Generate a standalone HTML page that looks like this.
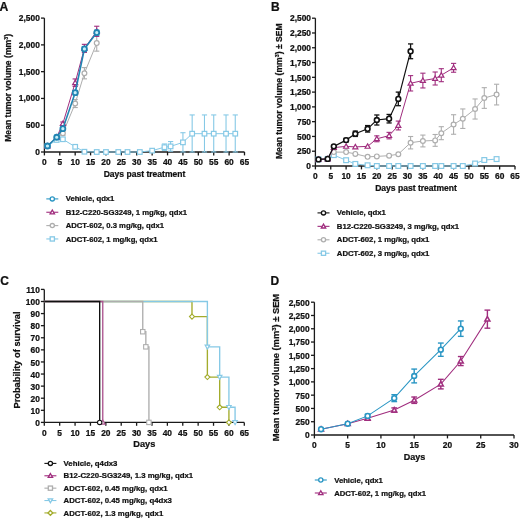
<!DOCTYPE html>
<html><head><meta charset="utf-8"><style>
html,body{margin:0;padding:0;background:#fff;}
svg{display:block;filter:blur(0.3px);}
text{font-family:"Liberation Sans", sans-serif;font-weight:bold;stroke:#111;stroke-width:0.24px;}
</style></head><body>
<svg width="520" height="519" viewBox="0 0 520 519">
<rect width="520" height="519" fill="#fff"/>
<text x="-0.40" y="10.90" font-size="12.2" text-anchor="start" fill="#111" >A</text>
<line x1="44.40" y1="152.00" x2="44.40" y2="18.10" stroke="#1a1a1a" stroke-width="1.3"/>
<line x1="44.40" y1="152.00" x2="244.50" y2="152.00" stroke="#1a1a1a" stroke-width="1.3"/>
<line x1="44.40" y1="152.00" x2="44.40" y2="155.40" stroke="#1a1a1a" stroke-width="1.3"/>
<text x="44.40" y="165.30" font-size="8.4" text-anchor="middle" fill="#111" >0</text>
<line x1="59.79" y1="152.00" x2="59.79" y2="155.40" stroke="#1a1a1a" stroke-width="1.3"/>
<text x="59.79" y="165.30" font-size="8.4" text-anchor="middle" fill="#111" >5</text>
<line x1="75.18" y1="152.00" x2="75.18" y2="155.40" stroke="#1a1a1a" stroke-width="1.3"/>
<text x="75.18" y="165.30" font-size="8.4" text-anchor="middle" fill="#111" >10</text>
<line x1="90.58" y1="152.00" x2="90.58" y2="155.40" stroke="#1a1a1a" stroke-width="1.3"/>
<text x="90.58" y="165.30" font-size="8.4" text-anchor="middle" fill="#111" >15</text>
<line x1="105.97" y1="152.00" x2="105.97" y2="155.40" stroke="#1a1a1a" stroke-width="1.3"/>
<text x="105.97" y="165.30" font-size="8.4" text-anchor="middle" fill="#111" >20</text>
<line x1="121.36" y1="152.00" x2="121.36" y2="155.40" stroke="#1a1a1a" stroke-width="1.3"/>
<text x="121.36" y="165.30" font-size="8.4" text-anchor="middle" fill="#111" >25</text>
<line x1="136.75" y1="152.00" x2="136.75" y2="155.40" stroke="#1a1a1a" stroke-width="1.3"/>
<text x="136.75" y="165.30" font-size="8.4" text-anchor="middle" fill="#111" >30</text>
<line x1="152.15" y1="152.00" x2="152.15" y2="155.40" stroke="#1a1a1a" stroke-width="1.3"/>
<text x="152.15" y="165.30" font-size="8.4" text-anchor="middle" fill="#111" >35</text>
<line x1="167.54" y1="152.00" x2="167.54" y2="155.40" stroke="#1a1a1a" stroke-width="1.3"/>
<text x="167.54" y="165.30" font-size="8.4" text-anchor="middle" fill="#111" >40</text>
<line x1="182.93" y1="152.00" x2="182.93" y2="155.40" stroke="#1a1a1a" stroke-width="1.3"/>
<text x="182.93" y="165.30" font-size="8.4" text-anchor="middle" fill="#111" >45</text>
<line x1="198.32" y1="152.00" x2="198.32" y2="155.40" stroke="#1a1a1a" stroke-width="1.3"/>
<text x="198.32" y="165.30" font-size="8.4" text-anchor="middle" fill="#111" >50</text>
<line x1="213.72" y1="152.00" x2="213.72" y2="155.40" stroke="#1a1a1a" stroke-width="1.3"/>
<text x="213.72" y="165.30" font-size="8.4" text-anchor="middle" fill="#111" >55</text>
<line x1="229.11" y1="152.00" x2="229.11" y2="155.40" stroke="#1a1a1a" stroke-width="1.3"/>
<text x="229.11" y="165.30" font-size="8.4" text-anchor="middle" fill="#111" >60</text>
<line x1="244.50" y1="152.00" x2="244.50" y2="155.40" stroke="#1a1a1a" stroke-width="1.3"/>
<text x="244.50" y="165.30" font-size="8.4" text-anchor="middle" fill="#111" >65</text>
<line x1="41.00" y1="152.00" x2="44.40" y2="152.00" stroke="#1a1a1a" stroke-width="1.3"/>
<text x="39.80" y="155.02" font-size="8.4" text-anchor="end" fill="#111" >0</text>
<line x1="41.00" y1="125.22" x2="44.40" y2="125.22" stroke="#1a1a1a" stroke-width="1.3"/>
<text x="39.80" y="128.24" font-size="8.4" text-anchor="end" fill="#111" >500</text>
<line x1="41.00" y1="98.44" x2="44.40" y2="98.44" stroke="#1a1a1a" stroke-width="1.3"/>
<text x="39.80" y="101.46" font-size="8.4" text-anchor="end" fill="#111" >1,000</text>
<line x1="41.00" y1="71.66" x2="44.40" y2="71.66" stroke="#1a1a1a" stroke-width="1.3"/>
<text x="39.80" y="74.68" font-size="8.4" text-anchor="end" fill="#111" >1,500</text>
<line x1="41.00" y1="44.88" x2="44.40" y2="44.88" stroke="#1a1a1a" stroke-width="1.3"/>
<text x="39.80" y="47.90" font-size="8.4" text-anchor="end" fill="#111" >2,000</text>
<line x1="41.00" y1="18.10" x2="44.40" y2="18.10" stroke="#1a1a1a" stroke-width="1.3"/>
<text x="39.80" y="21.12" font-size="8.4" text-anchor="end" fill="#111" >2,500</text>
<text x="11.00" y="87.90" font-size="8.65" text-anchor="middle" transform="rotate(-90 11.00 87.90)" fill="#111" >Mean tumor volume (mm<tspan font-size="5.3" dy="-3">3</tspan><tspan dy="3">)</tspan></text>
<text x="144.50" y="177.00" font-size="8.55" text-anchor="middle" fill="#111" >Days past treatment</text>
<polyline points="47.48,146.00 56.71,137.27 62.87,133.25 75.18,103.53 84.42,73.21 96.73,43.11" fill="none" stroke="#aeaeae" stroke-width="1.0" stroke-linejoin="miter"/>
<line x1="62.87" y1="133.25" x2="62.87" y2="131.11" stroke="#aeaeae" stroke-width="1.1"/>
<line x1="60.27" y1="131.11" x2="65.47" y2="131.11" stroke="#aeaeae" stroke-width="1.1"/>
<line x1="62.87" y1="133.25" x2="62.87" y2="135.40" stroke="#aeaeae" stroke-width="1.1"/>
<line x1="60.27" y1="135.40" x2="65.47" y2="135.40" stroke="#aeaeae" stroke-width="1.1"/>
<line x1="75.18" y1="103.53" x2="75.18" y2="99.51" stroke="#aeaeae" stroke-width="1.1"/>
<line x1="72.58" y1="99.51" x2="77.78" y2="99.51" stroke="#aeaeae" stroke-width="1.1"/>
<line x1="75.18" y1="103.53" x2="75.18" y2="107.55" stroke="#aeaeae" stroke-width="1.1"/>
<line x1="72.58" y1="107.55" x2="77.78" y2="107.55" stroke="#aeaeae" stroke-width="1.1"/>
<line x1="84.42" y1="73.21" x2="84.42" y2="67.59" stroke="#aeaeae" stroke-width="1.1"/>
<line x1="81.82" y1="67.59" x2="87.02" y2="67.59" stroke="#aeaeae" stroke-width="1.1"/>
<line x1="84.42" y1="73.21" x2="84.42" y2="78.84" stroke="#aeaeae" stroke-width="1.1"/>
<line x1="81.82" y1="78.84" x2="87.02" y2="78.84" stroke="#aeaeae" stroke-width="1.1"/>
<line x1="96.73" y1="43.11" x2="96.73" y2="35.08" stroke="#aeaeae" stroke-width="1.1"/>
<line x1="94.13" y1="35.08" x2="99.33" y2="35.08" stroke="#aeaeae" stroke-width="1.1"/>
<line x1="96.73" y1="43.11" x2="96.73" y2="51.15" stroke="#aeaeae" stroke-width="1.1"/>
<line x1="94.13" y1="51.15" x2="99.33" y2="51.15" stroke="#aeaeae" stroke-width="1.1"/>
<circle cx="47.48" cy="146.00" r="2.4" fill="#fff" stroke="#aeaeae" stroke-width="1.2"/>
<circle cx="56.71" cy="137.27" r="2.4" fill="#fff" stroke="#aeaeae" stroke-width="1.2"/>
<circle cx="62.87" cy="133.25" r="2.4" fill="#fff" stroke="#aeaeae" stroke-width="1.2"/>
<circle cx="75.18" cy="103.53" r="2.4" fill="#fff" stroke="#aeaeae" stroke-width="1.2"/>
<circle cx="84.42" cy="73.21" r="2.4" fill="#fff" stroke="#aeaeae" stroke-width="1.2"/>
<circle cx="96.73" cy="43.11" r="2.4" fill="#fff" stroke="#aeaeae" stroke-width="1.2"/>
<polyline points="47.48,146.00 56.71,139.95 62.87,139.25 75.18,146.80 84.42,151.73 96.73,152.00 105.97,152.00 118.28,152.00 127.52,152.00 139.83,152.00 152.15,150.66 164.46,147.18 170.62,146.38 182.93,142.36 192.17,133.68 204.48,133.68 213.72,133.68 226.03,133.68 235.26,133.68" fill="none" stroke="#86c9e6" stroke-width="1.0" stroke-linejoin="miter"/>
<line x1="164.46" y1="147.18" x2="164.46" y2="143.97" stroke="#86c9e6" stroke-width="1.1"/>
<line x1="161.86" y1="143.97" x2="167.06" y2="143.97" stroke="#86c9e6" stroke-width="1.1"/>
<line x1="164.46" y1="147.18" x2="164.46" y2="150.39" stroke="#86c9e6" stroke-width="1.1"/>
<line x1="161.86" y1="150.39" x2="167.06" y2="150.39" stroke="#86c9e6" stroke-width="1.1"/>
<line x1="170.62" y1="146.38" x2="170.62" y2="141.56" stroke="#86c9e6" stroke-width="1.1"/>
<line x1="168.02" y1="141.56" x2="173.22" y2="141.56" stroke="#86c9e6" stroke-width="1.1"/>
<line x1="170.62" y1="146.38" x2="170.62" y2="151.20" stroke="#86c9e6" stroke-width="1.1"/>
<line x1="168.02" y1="151.20" x2="173.22" y2="151.20" stroke="#86c9e6" stroke-width="1.1"/>
<line x1="182.93" y1="142.36" x2="182.93" y2="132.72" stroke="#86c9e6" stroke-width="1.1"/>
<line x1="180.33" y1="132.72" x2="185.53" y2="132.72" stroke="#86c9e6" stroke-width="1.1"/>
<line x1="182.93" y1="142.36" x2="182.93" y2="152.00" stroke="#86c9e6" stroke-width="1.1"/>
<line x1="180.33" y1="152.00" x2="185.53" y2="152.00" stroke="#86c9e6" stroke-width="1.1"/>
<line x1="192.17" y1="133.68" x2="192.17" y2="114.94" stroke="#86c9e6" stroke-width="1.1"/>
<line x1="189.57" y1="114.94" x2="194.77" y2="114.94" stroke="#86c9e6" stroke-width="1.1"/>
<line x1="192.17" y1="133.68" x2="192.17" y2="152.00" stroke="#86c9e6" stroke-width="1.1"/>
<line x1="189.57" y1="152.00" x2="194.77" y2="152.00" stroke="#86c9e6" stroke-width="1.1"/>
<line x1="204.48" y1="133.68" x2="204.48" y2="114.94" stroke="#86c9e6" stroke-width="1.1"/>
<line x1="201.88" y1="114.94" x2="207.08" y2="114.94" stroke="#86c9e6" stroke-width="1.1"/>
<line x1="204.48" y1="133.68" x2="204.48" y2="152.00" stroke="#86c9e6" stroke-width="1.1"/>
<line x1="201.88" y1="152.00" x2="207.08" y2="152.00" stroke="#86c9e6" stroke-width="1.1"/>
<line x1="213.72" y1="133.68" x2="213.72" y2="114.94" stroke="#86c9e6" stroke-width="1.1"/>
<line x1="211.12" y1="114.94" x2="216.32" y2="114.94" stroke="#86c9e6" stroke-width="1.1"/>
<line x1="213.72" y1="133.68" x2="213.72" y2="152.00" stroke="#86c9e6" stroke-width="1.1"/>
<line x1="211.12" y1="152.00" x2="216.32" y2="152.00" stroke="#86c9e6" stroke-width="1.1"/>
<line x1="226.03" y1="133.68" x2="226.03" y2="114.94" stroke="#86c9e6" stroke-width="1.1"/>
<line x1="223.43" y1="114.94" x2="228.63" y2="114.94" stroke="#86c9e6" stroke-width="1.1"/>
<line x1="226.03" y1="133.68" x2="226.03" y2="152.00" stroke="#86c9e6" stroke-width="1.1"/>
<line x1="223.43" y1="152.00" x2="228.63" y2="152.00" stroke="#86c9e6" stroke-width="1.1"/>
<line x1="235.26" y1="133.68" x2="235.26" y2="114.94" stroke="#86c9e6" stroke-width="1.1"/>
<line x1="232.66" y1="114.94" x2="237.86" y2="114.94" stroke="#86c9e6" stroke-width="1.1"/>
<line x1="235.26" y1="133.68" x2="235.26" y2="152.00" stroke="#86c9e6" stroke-width="1.1"/>
<line x1="232.66" y1="152.00" x2="237.86" y2="152.00" stroke="#86c9e6" stroke-width="1.1"/>
<rect x="45.18" y="143.70" width="4.60" height="4.60" fill="#fff" stroke="#86c9e6" stroke-width="1.2"/>
<rect x="54.41" y="137.65" width="4.60" height="4.60" fill="#fff" stroke="#86c9e6" stroke-width="1.2"/>
<rect x="60.57" y="136.95" width="4.60" height="4.60" fill="#fff" stroke="#86c9e6" stroke-width="1.2"/>
<rect x="72.88" y="144.50" width="4.60" height="4.60" fill="#fff" stroke="#86c9e6" stroke-width="1.2"/>
<rect x="82.12" y="149.43" width="4.60" height="4.60" fill="#fff" stroke="#86c9e6" stroke-width="1.2"/>
<rect x="94.43" y="149.70" width="4.60" height="4.60" fill="#fff" stroke="#86c9e6" stroke-width="1.2"/>
<rect x="103.67" y="149.70" width="4.60" height="4.60" fill="#fff" stroke="#86c9e6" stroke-width="1.2"/>
<rect x="115.98" y="149.70" width="4.60" height="4.60" fill="#fff" stroke="#86c9e6" stroke-width="1.2"/>
<rect x="125.22" y="149.70" width="4.60" height="4.60" fill="#fff" stroke="#86c9e6" stroke-width="1.2"/>
<rect x="137.53" y="149.70" width="4.60" height="4.60" fill="#fff" stroke="#86c9e6" stroke-width="1.2"/>
<rect x="149.85" y="148.36" width="4.60" height="4.60" fill="#fff" stroke="#86c9e6" stroke-width="1.2"/>
<rect x="162.16" y="144.88" width="4.60" height="4.60" fill="#fff" stroke="#86c9e6" stroke-width="1.2"/>
<rect x="168.32" y="144.08" width="4.60" height="4.60" fill="#fff" stroke="#86c9e6" stroke-width="1.2"/>
<rect x="180.63" y="140.06" width="4.60" height="4.60" fill="#fff" stroke="#86c9e6" stroke-width="1.2"/>
<rect x="189.87" y="131.38" width="4.60" height="4.60" fill="#fff" stroke="#86c9e6" stroke-width="1.2"/>
<rect x="202.18" y="131.38" width="4.60" height="4.60" fill="#fff" stroke="#86c9e6" stroke-width="1.2"/>
<rect x="211.42" y="131.38" width="4.60" height="4.60" fill="#fff" stroke="#86c9e6" stroke-width="1.2"/>
<rect x="223.73" y="131.38" width="4.60" height="4.60" fill="#fff" stroke="#86c9e6" stroke-width="1.2"/>
<rect x="232.96" y="131.38" width="4.60" height="4.60" fill="#fff" stroke="#86c9e6" stroke-width="1.2"/>
<polyline points="47.48,146.00 56.71,137.27 62.87,123.61 75.18,82.69 84.42,48.36 96.73,31.33" fill="none" stroke="#a02d7e" stroke-width="1.0" stroke-linejoin="miter"/>
<line x1="62.87" y1="123.61" x2="62.87" y2="122.01" stroke="#a02d7e" stroke-width="1.1"/>
<line x1="60.27" y1="122.01" x2="65.47" y2="122.01" stroke="#a02d7e" stroke-width="1.1"/>
<line x1="62.87" y1="123.61" x2="62.87" y2="125.22" stroke="#a02d7e" stroke-width="1.1"/>
<line x1="60.27" y1="125.22" x2="65.47" y2="125.22" stroke="#a02d7e" stroke-width="1.1"/>
<line x1="75.18" y1="82.69" x2="75.18" y2="78.94" stroke="#a02d7e" stroke-width="1.1"/>
<line x1="72.58" y1="78.94" x2="77.78" y2="78.94" stroke="#a02d7e" stroke-width="1.1"/>
<line x1="75.18" y1="82.69" x2="75.18" y2="86.44" stroke="#a02d7e" stroke-width="1.1"/>
<line x1="72.58" y1="86.44" x2="77.78" y2="86.44" stroke="#a02d7e" stroke-width="1.1"/>
<line x1="84.42" y1="48.36" x2="84.42" y2="44.34" stroke="#a02d7e" stroke-width="1.1"/>
<line x1="81.82" y1="44.34" x2="87.02" y2="44.34" stroke="#a02d7e" stroke-width="1.1"/>
<line x1="84.42" y1="48.36" x2="84.42" y2="52.38" stroke="#a02d7e" stroke-width="1.1"/>
<line x1="81.82" y1="52.38" x2="87.02" y2="52.38" stroke="#a02d7e" stroke-width="1.1"/>
<line x1="96.73" y1="31.33" x2="96.73" y2="26.24" stroke="#a02d7e" stroke-width="1.1"/>
<line x1="94.13" y1="26.24" x2="99.33" y2="26.24" stroke="#a02d7e" stroke-width="1.1"/>
<line x1="96.73" y1="31.33" x2="96.73" y2="36.42" stroke="#a02d7e" stroke-width="1.1"/>
<line x1="94.13" y1="36.42" x2="99.33" y2="36.42" stroke="#a02d7e" stroke-width="1.1"/>
<polygon points="47.48,143.48 50.00,147.89 44.96,147.89" fill="#fff" stroke="#a02d7e" stroke-width="1.2"/>
<polygon points="56.71,134.75 59.23,139.16 54.19,139.16" fill="#fff" stroke="#a02d7e" stroke-width="1.2"/>
<polygon points="62.87,121.09 65.39,125.50 60.35,125.50" fill="#fff" stroke="#a02d7e" stroke-width="1.2"/>
<polygon points="75.18,80.17 77.70,84.58 72.66,84.58" fill="#fff" stroke="#a02d7e" stroke-width="1.2"/>
<polygon points="84.42,45.84 86.94,50.25 81.90,50.25" fill="#fff" stroke="#a02d7e" stroke-width="1.2"/>
<polygon points="96.73,28.81 99.25,33.22 94.21,33.22" fill="#fff" stroke="#a02d7e" stroke-width="1.2"/>
<polyline points="47.48,146.00 56.71,137.27 62.87,128.65 75.18,92.71 84.42,48.90 96.73,32.61" fill="none" stroke="#2185b3" stroke-width="1.6" stroke-linejoin="miter"/>
<line x1="62.87" y1="128.65" x2="62.87" y2="127.58" stroke="#2185b3" stroke-width="1.3"/>
<line x1="60.27" y1="127.58" x2="65.47" y2="127.58" stroke="#2185b3" stroke-width="1.3"/>
<line x1="62.87" y1="128.65" x2="62.87" y2="129.72" stroke="#2185b3" stroke-width="1.3"/>
<line x1="60.27" y1="129.72" x2="65.47" y2="129.72" stroke="#2185b3" stroke-width="1.3"/>
<line x1="75.18" y1="92.71" x2="75.18" y2="90.57" stroke="#2185b3" stroke-width="1.3"/>
<line x1="72.58" y1="90.57" x2="77.78" y2="90.57" stroke="#2185b3" stroke-width="1.3"/>
<line x1="75.18" y1="92.71" x2="75.18" y2="94.85" stroke="#2185b3" stroke-width="1.3"/>
<line x1="72.58" y1="94.85" x2="77.78" y2="94.85" stroke="#2185b3" stroke-width="1.3"/>
<line x1="84.42" y1="48.90" x2="84.42" y2="46.75" stroke="#2185b3" stroke-width="1.3"/>
<line x1="81.82" y1="46.75" x2="87.02" y2="46.75" stroke="#2185b3" stroke-width="1.3"/>
<line x1="84.42" y1="48.90" x2="84.42" y2="51.04" stroke="#2185b3" stroke-width="1.3"/>
<line x1="81.82" y1="51.04" x2="87.02" y2="51.04" stroke="#2185b3" stroke-width="1.3"/>
<line x1="96.73" y1="32.61" x2="96.73" y2="30.20" stroke="#2185b3" stroke-width="1.3"/>
<line x1="94.13" y1="30.20" x2="99.33" y2="30.20" stroke="#2185b3" stroke-width="1.3"/>
<line x1="96.73" y1="32.61" x2="96.73" y2="35.02" stroke="#2185b3" stroke-width="1.3"/>
<line x1="94.13" y1="35.02" x2="99.33" y2="35.02" stroke="#2185b3" stroke-width="1.3"/>
<circle cx="47.48" cy="146.00" r="2.5" fill="#c8eef8" stroke="#2185b3" stroke-width="1.8"/>
<circle cx="56.71" cy="137.27" r="2.5" fill="#c8eef8" stroke="#2185b3" stroke-width="1.8"/>
<circle cx="62.87" cy="128.65" r="2.5" fill="#c8eef8" stroke="#2185b3" stroke-width="1.8"/>
<circle cx="75.18" cy="92.71" r="2.5" fill="#c8eef8" stroke="#2185b3" stroke-width="1.8"/>
<circle cx="84.42" cy="48.90" r="2.5" fill="#c8eef8" stroke="#2185b3" stroke-width="1.8"/>
<circle cx="96.73" cy="32.61" r="2.5" fill="#c8eef8" stroke="#2185b3" stroke-width="1.8"/>
<line x1="46.30" y1="198.90" x2="58.30" y2="198.90" stroke="#2a96c4" stroke-width="1.1"/>
<circle cx="52.30" cy="198.90" r="2.1" fill="#fff" stroke="#2a96c4" stroke-width="1.3"/>
<text x="65.70" y="201.47" font-size="7.7" text-anchor="start" fill="#111" >Vehicle, qdx1</text>
<line x1="46.30" y1="212.25" x2="58.30" y2="212.25" stroke="#a02d7e" stroke-width="1.1"/>
<polygon points="52.30,210.04 54.50,213.90 50.09,213.90" fill="#fff" stroke="#a02d7e" stroke-width="1.3"/>
<text x="65.70" y="214.82" font-size="7.7" text-anchor="start" fill="#111" >B12-C220-SG3249, 1 mg/kg, qdx1</text>
<line x1="46.30" y1="225.60" x2="58.30" y2="225.60" stroke="#aeaeae" stroke-width="1.1"/>
<circle cx="52.30" cy="225.60" r="2.1" fill="#fff" stroke="#aeaeae" stroke-width="1.3"/>
<text x="65.70" y="228.17" font-size="7.7" text-anchor="start" fill="#111" >ADCT-602, 0.3 mg/kg, qdx1</text>
<line x1="46.30" y1="238.95" x2="58.30" y2="238.95" stroke="#86c9e6" stroke-width="1.1"/>
<rect x="50.20" y="236.85" width="4.20" height="4.20" fill="#fff" stroke="#86c9e6" stroke-width="1.3"/>
<text x="65.70" y="241.52" font-size="7.7" text-anchor="start" fill="#111" >ADCT-602, 1 mg/kg, qdx1</text>
<text x="270.90" y="10.90" font-size="12.0" text-anchor="start" fill="#111" >B</text>
<line x1="315.40" y1="166.00" x2="315.40" y2="18.20" stroke="#1a1a1a" stroke-width="1.3"/>
<line x1="315.40" y1="166.00" x2="515.00" y2="166.00" stroke="#1a1a1a" stroke-width="1.3"/>
<line x1="315.40" y1="166.00" x2="315.40" y2="169.40" stroke="#1a1a1a" stroke-width="1.3"/>
<text x="315.40" y="178.90" font-size="8.4" text-anchor="middle" fill="#111" >0</text>
<line x1="330.75" y1="166.00" x2="330.75" y2="169.40" stroke="#1a1a1a" stroke-width="1.3"/>
<text x="330.75" y="178.90" font-size="8.4" text-anchor="middle" fill="#111" >5</text>
<line x1="346.11" y1="166.00" x2="346.11" y2="169.40" stroke="#1a1a1a" stroke-width="1.3"/>
<text x="346.11" y="178.90" font-size="8.4" text-anchor="middle" fill="#111" >10</text>
<line x1="361.46" y1="166.00" x2="361.46" y2="169.40" stroke="#1a1a1a" stroke-width="1.3"/>
<text x="361.46" y="178.90" font-size="8.4" text-anchor="middle" fill="#111" >15</text>
<line x1="376.82" y1="166.00" x2="376.82" y2="169.40" stroke="#1a1a1a" stroke-width="1.3"/>
<text x="376.82" y="178.90" font-size="8.4" text-anchor="middle" fill="#111" >20</text>
<line x1="392.17" y1="166.00" x2="392.17" y2="169.40" stroke="#1a1a1a" stroke-width="1.3"/>
<text x="392.17" y="178.90" font-size="8.4" text-anchor="middle" fill="#111" >25</text>
<line x1="407.52" y1="166.00" x2="407.52" y2="169.40" stroke="#1a1a1a" stroke-width="1.3"/>
<text x="407.52" y="178.90" font-size="8.4" text-anchor="middle" fill="#111" >30</text>
<line x1="422.88" y1="166.00" x2="422.88" y2="169.40" stroke="#1a1a1a" stroke-width="1.3"/>
<text x="422.88" y="178.90" font-size="8.4" text-anchor="middle" fill="#111" >35</text>
<line x1="438.23" y1="166.00" x2="438.23" y2="169.40" stroke="#1a1a1a" stroke-width="1.3"/>
<text x="438.23" y="178.90" font-size="8.4" text-anchor="middle" fill="#111" >40</text>
<line x1="453.58" y1="166.00" x2="453.58" y2="169.40" stroke="#1a1a1a" stroke-width="1.3"/>
<text x="453.58" y="178.90" font-size="8.4" text-anchor="middle" fill="#111" >45</text>
<line x1="468.94" y1="166.00" x2="468.94" y2="169.40" stroke="#1a1a1a" stroke-width="1.3"/>
<text x="468.94" y="178.90" font-size="8.4" text-anchor="middle" fill="#111" >50</text>
<line x1="484.29" y1="166.00" x2="484.29" y2="169.40" stroke="#1a1a1a" stroke-width="1.3"/>
<text x="484.29" y="178.90" font-size="8.4" text-anchor="middle" fill="#111" >55</text>
<line x1="499.65" y1="166.00" x2="499.65" y2="169.40" stroke="#1a1a1a" stroke-width="1.3"/>
<text x="499.65" y="178.90" font-size="8.4" text-anchor="middle" fill="#111" >60</text>
<line x1="515.00" y1="166.00" x2="515.00" y2="169.40" stroke="#1a1a1a" stroke-width="1.3"/>
<text x="515.00" y="178.90" font-size="8.4" text-anchor="middle" fill="#111" >65</text>
<line x1="312.00" y1="166.00" x2="315.40" y2="166.00" stroke="#1a1a1a" stroke-width="1.3"/>
<text x="311.00" y="169.22" font-size="8.4" text-anchor="end" fill="#111" >0</text>
<line x1="312.00" y1="151.22" x2="315.40" y2="151.22" stroke="#1a1a1a" stroke-width="1.3"/>
<text x="311.00" y="154.44" font-size="8.4" text-anchor="end" fill="#111" >250</text>
<line x1="312.00" y1="136.44" x2="315.40" y2="136.44" stroke="#1a1a1a" stroke-width="1.3"/>
<text x="311.00" y="139.66" font-size="8.4" text-anchor="end" fill="#111" >500</text>
<line x1="312.00" y1="121.66" x2="315.40" y2="121.66" stroke="#1a1a1a" stroke-width="1.3"/>
<text x="311.00" y="124.88" font-size="8.4" text-anchor="end" fill="#111" >750</text>
<line x1="312.00" y1="106.88" x2="315.40" y2="106.88" stroke="#1a1a1a" stroke-width="1.3"/>
<text x="311.00" y="110.10" font-size="8.4" text-anchor="end" fill="#111" >1,000</text>
<line x1="312.00" y1="92.10" x2="315.40" y2="92.10" stroke="#1a1a1a" stroke-width="1.3"/>
<text x="311.00" y="95.32" font-size="8.4" text-anchor="end" fill="#111" >1,250</text>
<line x1="312.00" y1="77.32" x2="315.40" y2="77.32" stroke="#1a1a1a" stroke-width="1.3"/>
<text x="311.00" y="80.54" font-size="8.4" text-anchor="end" fill="#111" >1,500</text>
<line x1="312.00" y1="62.54" x2="315.40" y2="62.54" stroke="#1a1a1a" stroke-width="1.3"/>
<text x="311.00" y="65.76" font-size="8.4" text-anchor="end" fill="#111" >1,750</text>
<line x1="312.00" y1="47.76" x2="315.40" y2="47.76" stroke="#1a1a1a" stroke-width="1.3"/>
<text x="311.00" y="50.98" font-size="8.4" text-anchor="end" fill="#111" >2,000</text>
<line x1="312.00" y1="32.98" x2="315.40" y2="32.98" stroke="#1a1a1a" stroke-width="1.3"/>
<text x="311.00" y="36.20" font-size="8.4" text-anchor="end" fill="#111" >2,250</text>
<line x1="312.00" y1="18.20" x2="315.40" y2="18.20" stroke="#1a1a1a" stroke-width="1.3"/>
<text x="311.00" y="21.42" font-size="8.4" text-anchor="end" fill="#111" >2,500</text>
<text x="281.70" y="91.20" font-size="8.6" text-anchor="middle" transform="rotate(-90 281.70 91.20)" fill="#111" >Mean tumor volume (mm<tspan font-size="5.3" dy="-3">3</tspan><tspan dy="3">) ± SEM</tspan></text>
<text x="416.00" y="190.80" font-size="8.55" text-anchor="middle" fill="#111" >Days past treatment</text>
<polyline points="318.47,159.38 327.68,158.91 333.82,155.12 346.11,160.21 355.32,163.93 367.60,165.29 376.82,166.00 389.10,166.00 398.31,166.00 410.59,166.00 422.88,166.00 435.16,166.00 441.30,166.00 453.58,166.00 462.80,166.00 475.08,163.52 484.29,160.03 496.58,159.08" fill="none" stroke="#86c9e6" stroke-width="1.0" stroke-linejoin="miter"/>
<rect x="316.07" y="156.98" width="4.80" height="4.80" fill="#fff" stroke="#86c9e6" stroke-width="1.2"/>
<rect x="325.28" y="156.51" width="4.80" height="4.80" fill="#fff" stroke="#86c9e6" stroke-width="1.2"/>
<rect x="331.42" y="152.72" width="4.80" height="4.80" fill="#fff" stroke="#86c9e6" stroke-width="1.2"/>
<rect x="343.71" y="157.81" width="4.80" height="4.80" fill="#fff" stroke="#86c9e6" stroke-width="1.2"/>
<rect x="352.92" y="161.53" width="4.80" height="4.80" fill="#fff" stroke="#86c9e6" stroke-width="1.2"/>
<rect x="365.20" y="162.89" width="4.80" height="4.80" fill="#fff" stroke="#86c9e6" stroke-width="1.2"/>
<rect x="374.42" y="163.60" width="4.80" height="4.80" fill="#fff" stroke="#86c9e6" stroke-width="1.2"/>
<rect x="386.70" y="163.60" width="4.80" height="4.80" fill="#fff" stroke="#86c9e6" stroke-width="1.2"/>
<rect x="395.91" y="163.60" width="4.80" height="4.80" fill="#fff" stroke="#86c9e6" stroke-width="1.2"/>
<rect x="408.19" y="163.60" width="4.80" height="4.80" fill="#fff" stroke="#86c9e6" stroke-width="1.2"/>
<rect x="420.48" y="163.60" width="4.80" height="4.80" fill="#fff" stroke="#86c9e6" stroke-width="1.2"/>
<rect x="432.76" y="163.60" width="4.80" height="4.80" fill="#fff" stroke="#86c9e6" stroke-width="1.2"/>
<rect x="438.90" y="163.60" width="4.80" height="4.80" fill="#fff" stroke="#86c9e6" stroke-width="1.2"/>
<rect x="451.18" y="163.60" width="4.80" height="4.80" fill="#fff" stroke="#86c9e6" stroke-width="1.2"/>
<rect x="460.40" y="163.60" width="4.80" height="4.80" fill="#fff" stroke="#86c9e6" stroke-width="1.2"/>
<rect x="472.68" y="161.12" width="4.80" height="4.80" fill="#fff" stroke="#86c9e6" stroke-width="1.2"/>
<rect x="481.89" y="157.63" width="4.80" height="4.80" fill="#fff" stroke="#86c9e6" stroke-width="1.2"/>
<rect x="494.18" y="156.68" width="4.80" height="4.80" fill="#fff" stroke="#86c9e6" stroke-width="1.2"/>
<polyline points="318.47,159.38 327.68,158.91 333.82,152.11 346.11,152.11 355.32,153.88 367.60,156.84 376.82,156.42 389.10,155.65 398.31,154.18 410.59,142.71 422.88,140.99 435.16,140.40 441.30,133.19 453.58,124.50 462.80,118.70 475.08,109.01 484.29,98.01 496.58,94.58" fill="none" stroke="#aeaeae" stroke-width="1.0" stroke-linejoin="miter"/>
<line x1="410.59" y1="142.71" x2="410.59" y2="136.50" stroke="#aeaeae" stroke-width="1.1"/>
<line x1="407.99" y1="136.50" x2="413.19" y2="136.50" stroke="#aeaeae" stroke-width="1.1"/>
<line x1="410.59" y1="142.71" x2="410.59" y2="148.91" stroke="#aeaeae" stroke-width="1.1"/>
<line x1="407.99" y1="148.91" x2="413.19" y2="148.91" stroke="#aeaeae" stroke-width="1.1"/>
<line x1="422.88" y1="140.99" x2="422.88" y2="135.08" stroke="#aeaeae" stroke-width="1.1"/>
<line x1="420.28" y1="135.08" x2="425.48" y2="135.08" stroke="#aeaeae" stroke-width="1.1"/>
<line x1="422.88" y1="140.99" x2="422.88" y2="146.90" stroke="#aeaeae" stroke-width="1.1"/>
<line x1="420.28" y1="146.90" x2="425.48" y2="146.90" stroke="#aeaeae" stroke-width="1.1"/>
<line x1="435.16" y1="140.40" x2="435.16" y2="134.49" stroke="#aeaeae" stroke-width="1.1"/>
<line x1="432.56" y1="134.49" x2="437.76" y2="134.49" stroke="#aeaeae" stroke-width="1.1"/>
<line x1="435.16" y1="140.40" x2="435.16" y2="146.31" stroke="#aeaeae" stroke-width="1.1"/>
<line x1="432.56" y1="146.31" x2="437.76" y2="146.31" stroke="#aeaeae" stroke-width="1.1"/>
<line x1="441.30" y1="133.19" x2="441.30" y2="126.69" stroke="#aeaeae" stroke-width="1.1"/>
<line x1="438.70" y1="126.69" x2="443.90" y2="126.69" stroke="#aeaeae" stroke-width="1.1"/>
<line x1="441.30" y1="133.19" x2="441.30" y2="139.69" stroke="#aeaeae" stroke-width="1.1"/>
<line x1="438.70" y1="139.69" x2="443.90" y2="139.69" stroke="#aeaeae" stroke-width="1.1"/>
<line x1="453.58" y1="124.50" x2="453.58" y2="114.74" stroke="#aeaeae" stroke-width="1.1"/>
<line x1="450.98" y1="114.74" x2="456.18" y2="114.74" stroke="#aeaeae" stroke-width="1.1"/>
<line x1="453.58" y1="124.50" x2="453.58" y2="134.25" stroke="#aeaeae" stroke-width="1.1"/>
<line x1="450.98" y1="134.25" x2="456.18" y2="134.25" stroke="#aeaeae" stroke-width="1.1"/>
<line x1="462.80" y1="118.70" x2="462.80" y2="108.95" stroke="#aeaeae" stroke-width="1.1"/>
<line x1="460.20" y1="108.95" x2="465.40" y2="108.95" stroke="#aeaeae" stroke-width="1.1"/>
<line x1="462.80" y1="118.70" x2="462.80" y2="128.46" stroke="#aeaeae" stroke-width="1.1"/>
<line x1="460.20" y1="128.46" x2="465.40" y2="128.46" stroke="#aeaeae" stroke-width="1.1"/>
<line x1="475.08" y1="109.01" x2="475.08" y2="98.96" stroke="#aeaeae" stroke-width="1.1"/>
<line x1="472.48" y1="98.96" x2="477.68" y2="98.96" stroke="#aeaeae" stroke-width="1.1"/>
<line x1="475.08" y1="109.01" x2="475.08" y2="119.06" stroke="#aeaeae" stroke-width="1.1"/>
<line x1="472.48" y1="119.06" x2="477.68" y2="119.06" stroke="#aeaeae" stroke-width="1.1"/>
<line x1="484.29" y1="98.01" x2="484.29" y2="87.67" stroke="#aeaeae" stroke-width="1.1"/>
<line x1="481.69" y1="87.67" x2="486.89" y2="87.67" stroke="#aeaeae" stroke-width="1.1"/>
<line x1="484.29" y1="98.01" x2="484.29" y2="108.36" stroke="#aeaeae" stroke-width="1.1"/>
<line x1="481.69" y1="108.36" x2="486.89" y2="108.36" stroke="#aeaeae" stroke-width="1.1"/>
<line x1="496.58" y1="94.58" x2="496.58" y2="84.24" stroke="#aeaeae" stroke-width="1.1"/>
<line x1="493.98" y1="84.24" x2="499.18" y2="84.24" stroke="#aeaeae" stroke-width="1.1"/>
<line x1="496.58" y1="94.58" x2="496.58" y2="104.93" stroke="#aeaeae" stroke-width="1.1"/>
<line x1="493.98" y1="104.93" x2="499.18" y2="104.93" stroke="#aeaeae" stroke-width="1.1"/>
<circle cx="318.47" cy="159.38" r="2.4" fill="#fff" stroke="#aeaeae" stroke-width="1.2"/>
<circle cx="327.68" cy="158.91" r="2.4" fill="#fff" stroke="#aeaeae" stroke-width="1.2"/>
<circle cx="333.82" cy="152.11" r="2.4" fill="#fff" stroke="#aeaeae" stroke-width="1.2"/>
<circle cx="346.11" cy="152.11" r="2.4" fill="#fff" stroke="#aeaeae" stroke-width="1.2"/>
<circle cx="355.32" cy="153.88" r="2.4" fill="#fff" stroke="#aeaeae" stroke-width="1.2"/>
<circle cx="367.60" cy="156.84" r="2.4" fill="#fff" stroke="#aeaeae" stroke-width="1.2"/>
<circle cx="376.82" cy="156.42" r="2.4" fill="#fff" stroke="#aeaeae" stroke-width="1.2"/>
<circle cx="389.10" cy="155.65" r="2.4" fill="#fff" stroke="#aeaeae" stroke-width="1.2"/>
<circle cx="398.31" cy="154.18" r="2.4" fill="#fff" stroke="#aeaeae" stroke-width="1.2"/>
<circle cx="410.59" cy="142.71" r="2.4" fill="#fff" stroke="#aeaeae" stroke-width="1.2"/>
<circle cx="422.88" cy="140.99" r="2.4" fill="#fff" stroke="#aeaeae" stroke-width="1.2"/>
<circle cx="435.16" cy="140.40" r="2.4" fill="#fff" stroke="#aeaeae" stroke-width="1.2"/>
<circle cx="441.30" cy="133.19" r="2.4" fill="#fff" stroke="#aeaeae" stroke-width="1.2"/>
<circle cx="453.58" cy="124.50" r="2.4" fill="#fff" stroke="#aeaeae" stroke-width="1.2"/>
<circle cx="462.80" cy="118.70" r="2.4" fill="#fff" stroke="#aeaeae" stroke-width="1.2"/>
<circle cx="475.08" cy="109.01" r="2.4" fill="#fff" stroke="#aeaeae" stroke-width="1.2"/>
<circle cx="484.29" cy="98.01" r="2.4" fill="#fff" stroke="#aeaeae" stroke-width="1.2"/>
<circle cx="496.58" cy="94.58" r="2.4" fill="#fff" stroke="#aeaeae" stroke-width="1.2"/>
<polyline points="318.47,159.38 327.68,158.91 333.82,147.61 346.11,146.37 355.32,146.90 367.60,146.37 376.82,138.80 389.10,135.61 398.31,125.50 410.59,83.29 422.88,80.57 435.16,78.50 441.30,75.19 453.58,67.80" fill="none" stroke="#a02d7e" stroke-width="1.0" stroke-linejoin="miter"/>
<line x1="376.82" y1="138.80" x2="376.82" y2="135.85" stroke="#a02d7e" stroke-width="1.1"/>
<line x1="374.22" y1="135.85" x2="379.42" y2="135.85" stroke="#a02d7e" stroke-width="1.1"/>
<line x1="376.82" y1="138.80" x2="376.82" y2="141.76" stroke="#a02d7e" stroke-width="1.1"/>
<line x1="374.22" y1="141.76" x2="379.42" y2="141.76" stroke="#a02d7e" stroke-width="1.1"/>
<line x1="389.10" y1="135.61" x2="389.10" y2="132.36" stroke="#a02d7e" stroke-width="1.1"/>
<line x1="386.50" y1="132.36" x2="391.70" y2="132.36" stroke="#a02d7e" stroke-width="1.1"/>
<line x1="389.10" y1="135.61" x2="389.10" y2="138.86" stroke="#a02d7e" stroke-width="1.1"/>
<line x1="386.50" y1="138.86" x2="391.70" y2="138.86" stroke="#a02d7e" stroke-width="1.1"/>
<line x1="398.31" y1="125.50" x2="398.31" y2="121.07" stroke="#a02d7e" stroke-width="1.1"/>
<line x1="395.71" y1="121.07" x2="400.91" y2="121.07" stroke="#a02d7e" stroke-width="1.1"/>
<line x1="398.31" y1="125.50" x2="398.31" y2="129.94" stroke="#a02d7e" stroke-width="1.1"/>
<line x1="395.71" y1="129.94" x2="400.91" y2="129.94" stroke="#a02d7e" stroke-width="1.1"/>
<line x1="410.59" y1="83.29" x2="410.59" y2="75.61" stroke="#a02d7e" stroke-width="1.1"/>
<line x1="407.99" y1="75.61" x2="413.19" y2="75.61" stroke="#a02d7e" stroke-width="1.1"/>
<line x1="410.59" y1="83.29" x2="410.59" y2="90.98" stroke="#a02d7e" stroke-width="1.1"/>
<line x1="407.99" y1="90.98" x2="413.19" y2="90.98" stroke="#a02d7e" stroke-width="1.1"/>
<line x1="422.88" y1="80.57" x2="422.88" y2="73.18" stroke="#a02d7e" stroke-width="1.1"/>
<line x1="420.28" y1="73.18" x2="425.48" y2="73.18" stroke="#a02d7e" stroke-width="1.1"/>
<line x1="422.88" y1="80.57" x2="422.88" y2="87.96" stroke="#a02d7e" stroke-width="1.1"/>
<line x1="420.28" y1="87.96" x2="425.48" y2="87.96" stroke="#a02d7e" stroke-width="1.1"/>
<line x1="435.16" y1="78.50" x2="435.16" y2="72.00" stroke="#a02d7e" stroke-width="1.1"/>
<line x1="432.56" y1="72.00" x2="437.76" y2="72.00" stroke="#a02d7e" stroke-width="1.1"/>
<line x1="435.16" y1="78.50" x2="435.16" y2="85.01" stroke="#a02d7e" stroke-width="1.1"/>
<line x1="432.56" y1="85.01" x2="437.76" y2="85.01" stroke="#a02d7e" stroke-width="1.1"/>
<line x1="441.30" y1="75.19" x2="441.30" y2="68.69" stroke="#a02d7e" stroke-width="1.1"/>
<line x1="438.70" y1="68.69" x2="443.90" y2="68.69" stroke="#a02d7e" stroke-width="1.1"/>
<line x1="441.30" y1="75.19" x2="441.30" y2="81.69" stroke="#a02d7e" stroke-width="1.1"/>
<line x1="438.70" y1="81.69" x2="443.90" y2="81.69" stroke="#a02d7e" stroke-width="1.1"/>
<line x1="453.58" y1="67.80" x2="453.58" y2="63.37" stroke="#a02d7e" stroke-width="1.1"/>
<line x1="450.98" y1="63.37" x2="456.18" y2="63.37" stroke="#a02d7e" stroke-width="1.1"/>
<line x1="453.58" y1="67.80" x2="453.58" y2="72.24" stroke="#a02d7e" stroke-width="1.1"/>
<line x1="450.98" y1="72.24" x2="456.18" y2="72.24" stroke="#a02d7e" stroke-width="1.1"/>
<polygon points="318.47,156.86 320.99,161.27 315.95,161.27" fill="#fff" stroke="#a02d7e" stroke-width="1.2"/>
<polygon points="327.68,156.39 330.20,160.80 325.16,160.80" fill="#fff" stroke="#a02d7e" stroke-width="1.2"/>
<polygon points="333.82,145.09 336.34,149.50 331.30,149.50" fill="#fff" stroke="#a02d7e" stroke-width="1.2"/>
<polygon points="346.11,143.85 348.63,148.26 343.59,148.26" fill="#fff" stroke="#a02d7e" stroke-width="1.2"/>
<polygon points="355.32,144.38 357.84,148.79 352.80,148.79" fill="#fff" stroke="#a02d7e" stroke-width="1.2"/>
<polygon points="367.60,143.85 370.12,148.26 365.08,148.26" fill="#fff" stroke="#a02d7e" stroke-width="1.2"/>
<polygon points="376.82,136.28 379.34,140.69 374.30,140.69" fill="#fff" stroke="#a02d7e" stroke-width="1.2"/>
<polygon points="389.10,133.09 391.62,137.50 386.58,137.50" fill="#fff" stroke="#a02d7e" stroke-width="1.2"/>
<polygon points="398.31,122.98 400.83,127.39 395.79,127.39" fill="#fff" stroke="#a02d7e" stroke-width="1.2"/>
<polygon points="410.59,80.77 413.11,85.18 408.07,85.18" fill="#fff" stroke="#a02d7e" stroke-width="1.2"/>
<polygon points="422.88,78.05 425.40,82.46 420.36,82.46" fill="#fff" stroke="#a02d7e" stroke-width="1.2"/>
<polygon points="435.16,75.98 437.68,80.39 432.64,80.39" fill="#fff" stroke="#a02d7e" stroke-width="1.2"/>
<polygon points="441.30,72.67 443.82,77.08 438.78,77.08" fill="#fff" stroke="#a02d7e" stroke-width="1.2"/>
<polygon points="453.58,65.28 456.10,69.69 451.06,69.69" fill="#fff" stroke="#a02d7e" stroke-width="1.2"/>
<polyline points="318.47,159.38 327.68,158.91 333.82,146.37 346.11,140.11 355.32,133.78 367.60,128.81 376.82,120.00 389.10,118.70 398.31,98.90 410.59,51.31" fill="none" stroke="#111111" stroke-width="1.2" stroke-linejoin="miter"/>
<line x1="346.11" y1="140.11" x2="346.11" y2="138.33" stroke="#111111" stroke-width="1.3"/>
<line x1="343.51" y1="138.33" x2="348.71" y2="138.33" stroke="#111111" stroke-width="1.3"/>
<line x1="346.11" y1="140.11" x2="346.11" y2="141.88" stroke="#111111" stroke-width="1.3"/>
<line x1="343.51" y1="141.88" x2="348.71" y2="141.88" stroke="#111111" stroke-width="1.3"/>
<line x1="355.32" y1="133.78" x2="355.32" y2="131.12" stroke="#111111" stroke-width="1.3"/>
<line x1="352.72" y1="131.12" x2="357.92" y2="131.12" stroke="#111111" stroke-width="1.3"/>
<line x1="355.32" y1="133.78" x2="355.32" y2="136.44" stroke="#111111" stroke-width="1.3"/>
<line x1="352.72" y1="136.44" x2="357.92" y2="136.44" stroke="#111111" stroke-width="1.3"/>
<line x1="367.60" y1="128.81" x2="367.60" y2="125.56" stroke="#111111" stroke-width="1.3"/>
<line x1="365.00" y1="125.56" x2="370.20" y2="125.56" stroke="#111111" stroke-width="1.3"/>
<line x1="367.60" y1="128.81" x2="367.60" y2="132.07" stroke="#111111" stroke-width="1.3"/>
<line x1="365.00" y1="132.07" x2="370.20" y2="132.07" stroke="#111111" stroke-width="1.3"/>
<line x1="376.82" y1="120.00" x2="376.82" y2="114.98" stroke="#111111" stroke-width="1.3"/>
<line x1="374.22" y1="114.98" x2="379.42" y2="114.98" stroke="#111111" stroke-width="1.3"/>
<line x1="376.82" y1="120.00" x2="376.82" y2="125.03" stroke="#111111" stroke-width="1.3"/>
<line x1="374.22" y1="125.03" x2="379.42" y2="125.03" stroke="#111111" stroke-width="1.3"/>
<line x1="389.10" y1="118.70" x2="389.10" y2="114.45" stroke="#111111" stroke-width="1.3"/>
<line x1="386.50" y1="114.45" x2="391.70" y2="114.45" stroke="#111111" stroke-width="1.3"/>
<line x1="389.10" y1="118.70" x2="389.10" y2="122.96" stroke="#111111" stroke-width="1.3"/>
<line x1="386.50" y1="122.96" x2="391.70" y2="122.96" stroke="#111111" stroke-width="1.3"/>
<line x1="398.31" y1="98.90" x2="398.31" y2="92.10" stroke="#111111" stroke-width="1.3"/>
<line x1="395.71" y1="92.10" x2="400.91" y2="92.10" stroke="#111111" stroke-width="1.3"/>
<line x1="398.31" y1="98.90" x2="398.31" y2="105.70" stroke="#111111" stroke-width="1.3"/>
<line x1="395.71" y1="105.70" x2="400.91" y2="105.70" stroke="#111111" stroke-width="1.3"/>
<line x1="410.59" y1="51.31" x2="410.59" y2="43.92" stroke="#111111" stroke-width="1.3"/>
<line x1="407.99" y1="43.92" x2="413.19" y2="43.92" stroke="#111111" stroke-width="1.3"/>
<line x1="410.59" y1="51.31" x2="410.59" y2="58.70" stroke="#111111" stroke-width="1.3"/>
<line x1="407.99" y1="58.70" x2="413.19" y2="58.70" stroke="#111111" stroke-width="1.3"/>
<circle cx="318.47" cy="159.38" r="2.4" fill="#fff" stroke="#111111" stroke-width="1.6"/>
<circle cx="327.68" cy="158.91" r="2.4" fill="#fff" stroke="#111111" stroke-width="1.6"/>
<circle cx="333.82" cy="146.37" r="2.4" fill="#fff" stroke="#111111" stroke-width="1.6"/>
<circle cx="346.11" cy="140.11" r="2.4" fill="#fff" stroke="#111111" stroke-width="1.6"/>
<circle cx="355.32" cy="133.78" r="2.4" fill="#fff" stroke="#111111" stroke-width="1.6"/>
<circle cx="367.60" cy="128.81" r="2.4" fill="#fff" stroke="#111111" stroke-width="1.6"/>
<circle cx="376.82" cy="120.00" r="2.4" fill="#fff" stroke="#111111" stroke-width="1.6"/>
<circle cx="389.10" cy="118.70" r="2.4" fill="#fff" stroke="#111111" stroke-width="1.6"/>
<circle cx="398.31" cy="98.90" r="2.4" fill="#fff" stroke="#111111" stroke-width="1.6"/>
<circle cx="410.59" cy="51.31" r="2.4" fill="#fff" stroke="#111111" stroke-width="1.6"/>
<line x1="317.50" y1="212.90" x2="329.50" y2="212.90" stroke="#111111" stroke-width="1.1"/>
<circle cx="323.50" cy="212.90" r="2.1" fill="#fff" stroke="#111111" stroke-width="1.3"/>
<text x="336.80" y="215.49" font-size="7.75" text-anchor="start" fill="#111" >Vehicle, qdx1</text>
<line x1="317.50" y1="226.35" x2="329.50" y2="226.35" stroke="#a02d7e" stroke-width="1.1"/>
<polygon points="323.50,224.14 325.70,228.00 321.30,228.00" fill="#fff" stroke="#a02d7e" stroke-width="1.3"/>
<text x="336.80" y="228.94" font-size="7.75" text-anchor="start" fill="#111" >B12-C220-SG3249, 3 mg/kg, qdx1</text>
<line x1="317.50" y1="239.80" x2="329.50" y2="239.80" stroke="#aeaeae" stroke-width="1.1"/>
<circle cx="323.50" cy="239.80" r="2.1" fill="#fff" stroke="#aeaeae" stroke-width="1.3"/>
<text x="336.80" y="242.39" font-size="7.75" text-anchor="start" fill="#111" >ADCT-602, 1 mg/kg, qdx1</text>
<line x1="317.50" y1="253.25" x2="329.50" y2="253.25" stroke="#86c9e6" stroke-width="1.1"/>
<rect x="321.40" y="251.15" width="4.20" height="4.20" fill="#fff" stroke="#86c9e6" stroke-width="1.3"/>
<text x="336.80" y="255.84" font-size="7.75" text-anchor="start" fill="#111" >ADCT-602, 3 mg/kg, qdx1</text>
<text x="0.20" y="284.50" font-size="12.0" text-anchor="start" fill="#111" >C</text>
<line x1="44.30" y1="422.40" x2="44.30" y2="289.40" stroke="#1a1a1a" stroke-width="1.3"/>
<line x1="44.30" y1="422.40" x2="244.30" y2="422.40" stroke="#1a1a1a" stroke-width="1.3"/>
<line x1="44.30" y1="422.40" x2="44.30" y2="425.80" stroke="#1a1a1a" stroke-width="1.3"/>
<text x="44.30" y="436.40" font-size="8.4" text-anchor="middle" fill="#111" >0</text>
<line x1="59.68" y1="422.40" x2="59.68" y2="425.80" stroke="#1a1a1a" stroke-width="1.3"/>
<text x="59.68" y="436.40" font-size="8.4" text-anchor="middle" fill="#111" >5</text>
<line x1="75.07" y1="422.40" x2="75.07" y2="425.80" stroke="#1a1a1a" stroke-width="1.3"/>
<text x="75.07" y="436.40" font-size="8.4" text-anchor="middle" fill="#111" >10</text>
<line x1="90.45" y1="422.40" x2="90.45" y2="425.80" stroke="#1a1a1a" stroke-width="1.3"/>
<text x="90.45" y="436.40" font-size="8.4" text-anchor="middle" fill="#111" >15</text>
<line x1="105.84" y1="422.40" x2="105.84" y2="425.80" stroke="#1a1a1a" stroke-width="1.3"/>
<text x="105.84" y="436.40" font-size="8.4" text-anchor="middle" fill="#111" >20</text>
<line x1="121.22" y1="422.40" x2="121.22" y2="425.80" stroke="#1a1a1a" stroke-width="1.3"/>
<text x="121.22" y="436.40" font-size="8.4" text-anchor="middle" fill="#111" >25</text>
<line x1="136.61" y1="422.40" x2="136.61" y2="425.80" stroke="#1a1a1a" stroke-width="1.3"/>
<text x="136.61" y="436.40" font-size="8.4" text-anchor="middle" fill="#111" >30</text>
<line x1="151.99" y1="422.40" x2="151.99" y2="425.80" stroke="#1a1a1a" stroke-width="1.3"/>
<text x="151.99" y="436.40" font-size="8.4" text-anchor="middle" fill="#111" >35</text>
<line x1="167.38" y1="422.40" x2="167.38" y2="425.80" stroke="#1a1a1a" stroke-width="1.3"/>
<text x="167.38" y="436.40" font-size="8.4" text-anchor="middle" fill="#111" >40</text>
<line x1="182.76" y1="422.40" x2="182.76" y2="425.80" stroke="#1a1a1a" stroke-width="1.3"/>
<text x="182.76" y="436.40" font-size="8.4" text-anchor="middle" fill="#111" >45</text>
<line x1="198.15" y1="422.40" x2="198.15" y2="425.80" stroke="#1a1a1a" stroke-width="1.3"/>
<text x="198.15" y="436.40" font-size="8.4" text-anchor="middle" fill="#111" >50</text>
<line x1="213.53" y1="422.40" x2="213.53" y2="425.80" stroke="#1a1a1a" stroke-width="1.3"/>
<text x="213.53" y="436.40" font-size="8.4" text-anchor="middle" fill="#111" >55</text>
<line x1="228.92" y1="422.40" x2="228.92" y2="425.80" stroke="#1a1a1a" stroke-width="1.3"/>
<text x="228.92" y="436.40" font-size="8.4" text-anchor="middle" fill="#111" >60</text>
<line x1="244.30" y1="422.40" x2="244.30" y2="425.80" stroke="#1a1a1a" stroke-width="1.3"/>
<text x="244.30" y="436.40" font-size="8.4" text-anchor="middle" fill="#111" >65</text>
<line x1="40.90" y1="422.40" x2="44.30" y2="422.40" stroke="#1a1a1a" stroke-width="1.3"/>
<text x="39.80" y="426.02" font-size="8.4" text-anchor="end" fill="#111" >0</text>
<line x1="40.90" y1="410.31" x2="44.30" y2="410.31" stroke="#1a1a1a" stroke-width="1.3"/>
<text x="39.80" y="413.93" font-size="8.4" text-anchor="end" fill="#111" >10</text>
<line x1="40.90" y1="398.22" x2="44.30" y2="398.22" stroke="#1a1a1a" stroke-width="1.3"/>
<text x="39.80" y="401.84" font-size="8.4" text-anchor="end" fill="#111" >20</text>
<line x1="40.90" y1="386.13" x2="44.30" y2="386.13" stroke="#1a1a1a" stroke-width="1.3"/>
<text x="39.80" y="389.75" font-size="8.4" text-anchor="end" fill="#111" >30</text>
<line x1="40.90" y1="374.04" x2="44.30" y2="374.04" stroke="#1a1a1a" stroke-width="1.3"/>
<text x="39.80" y="377.66" font-size="8.4" text-anchor="end" fill="#111" >40</text>
<line x1="40.90" y1="361.95" x2="44.30" y2="361.95" stroke="#1a1a1a" stroke-width="1.3"/>
<text x="39.80" y="365.57" font-size="8.4" text-anchor="end" fill="#111" >50</text>
<line x1="40.90" y1="349.85" x2="44.30" y2="349.85" stroke="#1a1a1a" stroke-width="1.3"/>
<text x="39.80" y="353.48" font-size="8.4" text-anchor="end" fill="#111" >60</text>
<line x1="40.90" y1="337.76" x2="44.30" y2="337.76" stroke="#1a1a1a" stroke-width="1.3"/>
<text x="39.80" y="341.39" font-size="8.4" text-anchor="end" fill="#111" >70</text>
<line x1="40.90" y1="325.67" x2="44.30" y2="325.67" stroke="#1a1a1a" stroke-width="1.3"/>
<text x="39.80" y="329.30" font-size="8.4" text-anchor="end" fill="#111" >80</text>
<line x1="40.90" y1="313.58" x2="44.30" y2="313.58" stroke="#1a1a1a" stroke-width="1.3"/>
<text x="39.80" y="317.21" font-size="8.4" text-anchor="end" fill="#111" >90</text>
<line x1="40.90" y1="301.49" x2="44.30" y2="301.49" stroke="#1a1a1a" stroke-width="1.3"/>
<text x="39.80" y="305.11" font-size="8.4" text-anchor="end" fill="#111" >100</text>
<line x1="40.90" y1="289.40" x2="44.30" y2="289.40" stroke="#1a1a1a" stroke-width="1.3"/>
<text x="39.80" y="293.02" font-size="8.4" text-anchor="end" fill="#111" >110</text>
<text x="20.30" y="360.00" font-size="9.3" text-anchor="middle" transform="rotate(-90 20.30 360.00)" fill="#111" >Probability of survival</text>
<text x="144.30" y="447.40" font-size="9.2" text-anchor="middle" fill="#111" >Days</text>
<polyline points="44.30,301.49 191.99,301.49 191.99,316.60 207.38,316.60 207.38,377.06 219.68,377.06 219.68,407.29 228.92,407.29 228.92,422.40" fill="none" stroke="#a3ac2c" stroke-width="1.35" stroke-linejoin="miter"/>
<polygon points="191.99,314.07 194.52,316.60 191.99,319.13 189.46,316.60" fill="#fff" stroke="#a3ac2c" stroke-width="1.1"/>
<polygon points="207.38,374.53 209.91,377.06 207.38,379.59 204.85,377.06" fill="#fff" stroke="#a3ac2c" stroke-width="1.1"/>
<polygon points="219.68,404.76 222.21,407.29 219.68,409.82 217.15,407.29" fill="#fff" stroke="#a3ac2c" stroke-width="1.1"/>
<polygon points="228.92,419.87 231.45,422.40 228.92,424.93 226.39,422.40" fill="#fff" stroke="#a3ac2c" stroke-width="1.1"/>
<polyline points="44.30,301.49 207.38,301.49 207.38,346.83 219.68,346.83 219.68,377.06 228.92,377.06 228.92,407.29 235.07,407.29 235.07,422.40" fill="none" stroke="#86c9e6" stroke-width="1.35" stroke-linejoin="miter"/>
<polygon points="207.38,349.14 209.69,345.10 205.07,345.10" fill="#fff" stroke="#86c9e6" stroke-width="1.1"/>
<polygon points="219.68,379.37 221.99,375.33 217.37,375.33" fill="#fff" stroke="#86c9e6" stroke-width="1.1"/>
<polygon points="228.92,409.60 231.23,405.55 226.61,405.55" fill="#fff" stroke="#86c9e6" stroke-width="1.1"/>
<polygon points="235.07,424.71 237.38,420.67 232.76,420.67" fill="#fff" stroke="#86c9e6" stroke-width="1.1"/>
<polyline points="44.30,301.49 142.76,301.49 142.76,331.72 145.84,331.72 145.84,346.83 148.92,346.83 148.92,422.40" fill="none" stroke="#aeaeae" stroke-width="1.35" stroke-linejoin="miter"/>
<rect x="140.56" y="329.52" width="4.40" height="4.40" fill="#fff" stroke="#aeaeae" stroke-width="1.1"/>
<rect x="143.64" y="344.63" width="4.40" height="4.40" fill="#fff" stroke="#aeaeae" stroke-width="1.1"/>
<rect x="146.72" y="420.20" width="4.40" height="4.40" fill="#fff" stroke="#aeaeae" stroke-width="1.1"/>
<polyline points="44.30,301.49 102.76,301.49 102.76,422.40" fill="none" stroke="#ad5590" stroke-width="1.35" stroke-linejoin="miter"/>
<polygon points="102.76,420.09 105.07,424.13 100.45,424.13" fill="#fff" stroke="#ad5590" stroke-width="1.1"/>
<polyline points="44.30,301.49 99.68,301.49 99.68,422.40" fill="none" stroke="#111111" stroke-width="1.35" stroke-linejoin="miter"/>
<circle cx="99.68" cy="422.40" r="2.2" fill="#fff" stroke="#111111" stroke-width="1.1"/>
<line x1="44.40" y1="463.40" x2="56.40" y2="463.40" stroke="#111111" stroke-width="1.1"/>
<circle cx="50.40" cy="463.40" r="2.1" fill="#fff" stroke="#111111" stroke-width="1.3"/>
<text x="63.60" y="466.01" font-size="7.8" text-anchor="start" fill="#111" >Vehicle, q4dx3</text>
<line x1="44.40" y1="475.78" x2="56.40" y2="475.78" stroke="#a02d7e" stroke-width="1.1"/>
<polygon points="50.40,473.57 52.60,477.43 48.20,477.43" fill="#fff" stroke="#a02d7e" stroke-width="1.3"/>
<text x="63.60" y="478.39" font-size="7.8" text-anchor="start" fill="#111" >B12-C220-SG3249, 1.3 mg/kg, qdx1</text>
<line x1="44.40" y1="488.16" x2="56.40" y2="488.16" stroke="#aeaeae" stroke-width="1.1"/>
<rect x="48.30" y="486.06" width="4.20" height="4.20" fill="#fff" stroke="#aeaeae" stroke-width="1.3"/>
<text x="63.60" y="490.77" font-size="7.8" text-anchor="start" fill="#111" >ADCT-602, 0.45 mg/kg, qdx1</text>
<line x1="44.40" y1="500.54" x2="56.40" y2="500.54" stroke="#86c9e6" stroke-width="1.1"/>
<polygon points="50.40,502.74 52.60,498.89 48.20,498.89" fill="#fff" stroke="#86c9e6" stroke-width="1.3"/>
<text x="63.60" y="503.15" font-size="7.8" text-anchor="start" fill="#111" >ADCT-602, 0.45 mg/kg, q4dx3</text>
<line x1="44.40" y1="512.92" x2="56.40" y2="512.92" stroke="#a3ac2c" stroke-width="1.1"/>
<polygon points="50.40,510.50 52.81,512.92 50.40,515.33 47.98,512.92" fill="#fff" stroke="#a3ac2c" stroke-width="1.3"/>
<text x="63.60" y="515.53" font-size="7.8" text-anchor="start" fill="#111" >ADCT-602, 1.3 mg/kg, qdx1</text>
<text x="270.50" y="284.50" font-size="12.0" text-anchor="start" fill="#111" >D</text>
<line x1="314.40" y1="435.00" x2="314.40" y2="302.20" stroke="#1a1a1a" stroke-width="1.3"/>
<line x1="314.40" y1="435.00" x2="514.00" y2="435.00" stroke="#1a1a1a" stroke-width="1.3"/>
<line x1="314.40" y1="435.00" x2="314.40" y2="438.40" stroke="#1a1a1a" stroke-width="1.3"/>
<text x="314.40" y="448.30" font-size="8.4" text-anchor="middle" fill="#111" >0</text>
<line x1="347.67" y1="435.00" x2="347.67" y2="438.40" stroke="#1a1a1a" stroke-width="1.3"/>
<text x="347.67" y="448.30" font-size="8.4" text-anchor="middle" fill="#111" >5</text>
<line x1="380.93" y1="435.00" x2="380.93" y2="438.40" stroke="#1a1a1a" stroke-width="1.3"/>
<text x="380.93" y="448.30" font-size="8.4" text-anchor="middle" fill="#111" >10</text>
<line x1="414.20" y1="435.00" x2="414.20" y2="438.40" stroke="#1a1a1a" stroke-width="1.3"/>
<text x="414.20" y="448.30" font-size="8.4" text-anchor="middle" fill="#111" >15</text>
<line x1="447.47" y1="435.00" x2="447.47" y2="438.40" stroke="#1a1a1a" stroke-width="1.3"/>
<text x="447.47" y="448.30" font-size="8.4" text-anchor="middle" fill="#111" >20</text>
<line x1="480.73" y1="435.00" x2="480.73" y2="438.40" stroke="#1a1a1a" stroke-width="1.3"/>
<text x="480.73" y="448.30" font-size="8.4" text-anchor="middle" fill="#111" >25</text>
<line x1="514.00" y1="435.00" x2="514.00" y2="438.40" stroke="#1a1a1a" stroke-width="1.3"/>
<text x="514.00" y="448.30" font-size="8.4" text-anchor="middle" fill="#111" >30</text>
<line x1="311.00" y1="435.00" x2="314.40" y2="435.00" stroke="#1a1a1a" stroke-width="1.3"/>
<text x="309.60" y="438.42" font-size="8.4" text-anchor="end" fill="#111" >0</text>
<line x1="311.00" y1="421.72" x2="314.40" y2="421.72" stroke="#1a1a1a" stroke-width="1.3"/>
<text x="309.60" y="425.14" font-size="8.4" text-anchor="end" fill="#111" >250</text>
<line x1="311.00" y1="408.44" x2="314.40" y2="408.44" stroke="#1a1a1a" stroke-width="1.3"/>
<text x="309.60" y="411.86" font-size="8.4" text-anchor="end" fill="#111" >500</text>
<line x1="311.00" y1="395.16" x2="314.40" y2="395.16" stroke="#1a1a1a" stroke-width="1.3"/>
<text x="309.60" y="398.58" font-size="8.4" text-anchor="end" fill="#111" >750</text>
<line x1="311.00" y1="381.88" x2="314.40" y2="381.88" stroke="#1a1a1a" stroke-width="1.3"/>
<text x="309.60" y="385.30" font-size="8.4" text-anchor="end" fill="#111" >1,000</text>
<line x1="311.00" y1="368.60" x2="314.40" y2="368.60" stroke="#1a1a1a" stroke-width="1.3"/>
<text x="309.60" y="372.02" font-size="8.4" text-anchor="end" fill="#111" >1,250</text>
<line x1="311.00" y1="355.32" x2="314.40" y2="355.32" stroke="#1a1a1a" stroke-width="1.3"/>
<text x="309.60" y="358.74" font-size="8.4" text-anchor="end" fill="#111" >1,500</text>
<line x1="311.00" y1="342.04" x2="314.40" y2="342.04" stroke="#1a1a1a" stroke-width="1.3"/>
<text x="309.60" y="345.46" font-size="8.4" text-anchor="end" fill="#111" >1,750</text>
<line x1="311.00" y1="328.76" x2="314.40" y2="328.76" stroke="#1a1a1a" stroke-width="1.3"/>
<text x="309.60" y="332.18" font-size="8.4" text-anchor="end" fill="#111" >2,000</text>
<line x1="311.00" y1="315.48" x2="314.40" y2="315.48" stroke="#1a1a1a" stroke-width="1.3"/>
<text x="309.60" y="318.90" font-size="8.4" text-anchor="end" fill="#111" >2,250</text>
<line x1="311.00" y1="302.20" x2="314.40" y2="302.20" stroke="#1a1a1a" stroke-width="1.3"/>
<text x="309.60" y="305.62" font-size="8.4" text-anchor="end" fill="#111" >2,500</text>
<text x="279.40" y="367.60" font-size="9.35" text-anchor="middle" transform="rotate(-90 279.40 367.60)" fill="#111" >Mean tumor volume (mm<tspan font-size="5.8" dy="-3.2">3</tspan><tspan dy="3.2">) ± SEM</tspan></text>
<text x="414.50" y="460.00" font-size="9.0" text-anchor="middle" fill="#111" >Days</text>
<polyline points="321.05,429.21 347.67,423.69 367.63,418.37 394.24,410.03 414.20,400.21 440.81,384.11 460.77,361.06 487.39,319.15" fill="none" stroke="#a02d7e" stroke-width="1.05" stroke-linejoin="miter"/>
<line x1="367.63" y1="418.37" x2="367.63" y2="417.05" stroke="#a02d7e" stroke-width="1.4"/>
<line x1="364.73" y1="417.05" x2="370.53" y2="417.05" stroke="#a02d7e" stroke-width="1.4"/>
<line x1="367.63" y1="418.37" x2="367.63" y2="419.70" stroke="#a02d7e" stroke-width="1.4"/>
<line x1="364.73" y1="419.70" x2="370.53" y2="419.70" stroke="#a02d7e" stroke-width="1.4"/>
<line x1="394.24" y1="410.03" x2="394.24" y2="407.91" stroke="#a02d7e" stroke-width="1.4"/>
<line x1="391.34" y1="407.91" x2="397.14" y2="407.91" stroke="#a02d7e" stroke-width="1.4"/>
<line x1="394.24" y1="410.03" x2="394.24" y2="412.16" stroke="#a02d7e" stroke-width="1.4"/>
<line x1="391.34" y1="412.16" x2="397.14" y2="412.16" stroke="#a02d7e" stroke-width="1.4"/>
<line x1="414.20" y1="400.21" x2="414.20" y2="397.02" stroke="#a02d7e" stroke-width="1.4"/>
<line x1="411.30" y1="397.02" x2="417.10" y2="397.02" stroke="#a02d7e" stroke-width="1.4"/>
<line x1="414.20" y1="400.21" x2="414.20" y2="403.39" stroke="#a02d7e" stroke-width="1.4"/>
<line x1="411.30" y1="403.39" x2="417.10" y2="403.39" stroke="#a02d7e" stroke-width="1.4"/>
<line x1="440.81" y1="384.11" x2="440.81" y2="379.33" stroke="#a02d7e" stroke-width="1.4"/>
<line x1="437.91" y1="379.33" x2="443.71" y2="379.33" stroke="#a02d7e" stroke-width="1.4"/>
<line x1="440.81" y1="384.11" x2="440.81" y2="388.89" stroke="#a02d7e" stroke-width="1.4"/>
<line x1="437.91" y1="388.89" x2="443.71" y2="388.89" stroke="#a02d7e" stroke-width="1.4"/>
<line x1="460.77" y1="361.06" x2="460.77" y2="356.54" stroke="#a02d7e" stroke-width="1.4"/>
<line x1="457.87" y1="356.54" x2="463.67" y2="356.54" stroke="#a02d7e" stroke-width="1.4"/>
<line x1="460.77" y1="361.06" x2="460.77" y2="365.57" stroke="#a02d7e" stroke-width="1.4"/>
<line x1="457.87" y1="365.57" x2="463.67" y2="365.57" stroke="#a02d7e" stroke-width="1.4"/>
<line x1="487.39" y1="319.15" x2="487.39" y2="310.11" stroke="#a02d7e" stroke-width="1.4"/>
<line x1="484.49" y1="310.11" x2="490.29" y2="310.11" stroke="#a02d7e" stroke-width="1.4"/>
<line x1="487.39" y1="319.15" x2="487.39" y2="328.18" stroke="#a02d7e" stroke-width="1.4"/>
<line x1="484.49" y1="328.18" x2="490.29" y2="328.18" stroke="#a02d7e" stroke-width="1.4"/>
<polygon points="321.05,426.69 323.57,431.10 318.53,431.10" fill="#fff" stroke="#a02d7e" stroke-width="1.5"/>
<polygon points="347.67,421.17 350.19,425.58 345.15,425.58" fill="#fff" stroke="#a02d7e" stroke-width="1.5"/>
<polygon points="367.63,415.85 370.15,420.26 365.11,420.26" fill="#fff" stroke="#a02d7e" stroke-width="1.5"/>
<polygon points="394.24,407.51 396.76,411.92 391.72,411.92" fill="#fff" stroke="#a02d7e" stroke-width="1.5"/>
<polygon points="414.20,397.69 416.72,402.10 411.68,402.10" fill="#fff" stroke="#a02d7e" stroke-width="1.5"/>
<polygon points="440.81,381.59 443.33,386.00 438.29,386.00" fill="#fff" stroke="#a02d7e" stroke-width="1.5"/>
<polygon points="460.77,358.54 463.29,362.95 458.25,362.95" fill="#fff" stroke="#a02d7e" stroke-width="1.5"/>
<polygon points="487.39,316.63 489.91,321.04 484.87,321.04" fill="#fff" stroke="#a02d7e" stroke-width="1.5"/>
<polyline points="321.05,429.21 347.67,423.69 367.63,415.88 394.24,398.13 414.20,375.98 440.81,349.69 460.77,328.65" fill="none" stroke="#2a96c4" stroke-width="1.05" stroke-linejoin="miter"/>
<line x1="367.63" y1="415.88" x2="367.63" y2="414.28" stroke="#2a96c4" stroke-width="1.4"/>
<line x1="364.73" y1="414.28" x2="370.53" y2="414.28" stroke="#2a96c4" stroke-width="1.4"/>
<line x1="367.63" y1="415.88" x2="367.63" y2="417.47" stroke="#2a96c4" stroke-width="1.4"/>
<line x1="364.73" y1="417.47" x2="370.53" y2="417.47" stroke="#2a96c4" stroke-width="1.4"/>
<line x1="394.24" y1="398.13" x2="394.24" y2="394.68" stroke="#2a96c4" stroke-width="1.4"/>
<line x1="391.34" y1="394.68" x2="397.14" y2="394.68" stroke="#2a96c4" stroke-width="1.4"/>
<line x1="394.24" y1="398.13" x2="394.24" y2="401.59" stroke="#2a96c4" stroke-width="1.4"/>
<line x1="391.34" y1="401.59" x2="397.14" y2="401.59" stroke="#2a96c4" stroke-width="1.4"/>
<line x1="414.20" y1="375.98" x2="414.20" y2="369.08" stroke="#2a96c4" stroke-width="1.4"/>
<line x1="411.30" y1="369.08" x2="417.10" y2="369.08" stroke="#2a96c4" stroke-width="1.4"/>
<line x1="414.20" y1="375.98" x2="414.20" y2="382.89" stroke="#2a96c4" stroke-width="1.4"/>
<line x1="411.30" y1="382.89" x2="417.10" y2="382.89" stroke="#2a96c4" stroke-width="1.4"/>
<line x1="440.81" y1="349.69" x2="440.81" y2="343.05" stroke="#2a96c4" stroke-width="1.4"/>
<line x1="437.91" y1="343.05" x2="443.71" y2="343.05" stroke="#2a96c4" stroke-width="1.4"/>
<line x1="440.81" y1="349.69" x2="440.81" y2="356.33" stroke="#2a96c4" stroke-width="1.4"/>
<line x1="437.91" y1="356.33" x2="443.71" y2="356.33" stroke="#2a96c4" stroke-width="1.4"/>
<line x1="460.77" y1="328.65" x2="460.77" y2="320.95" stroke="#2a96c4" stroke-width="1.4"/>
<line x1="457.87" y1="320.95" x2="463.67" y2="320.95" stroke="#2a96c4" stroke-width="1.4"/>
<line x1="460.77" y1="328.65" x2="460.77" y2="336.36" stroke="#2a96c4" stroke-width="1.4"/>
<line x1="457.87" y1="336.36" x2="463.67" y2="336.36" stroke="#2a96c4" stroke-width="1.4"/>
<circle cx="321.05" cy="429.21" r="2.4" fill="#fff" stroke="#2a96c4" stroke-width="1.6"/>
<circle cx="347.67" cy="423.69" r="2.4" fill="#fff" stroke="#2a96c4" stroke-width="1.6"/>
<circle cx="367.63" cy="415.88" r="2.4" fill="#fff" stroke="#2a96c4" stroke-width="1.6"/>
<circle cx="394.24" cy="398.13" r="2.4" fill="#fff" stroke="#2a96c4" stroke-width="1.6"/>
<circle cx="414.20" cy="375.98" r="2.4" fill="#fff" stroke="#2a96c4" stroke-width="1.6"/>
<circle cx="440.81" cy="349.69" r="2.4" fill="#fff" stroke="#2a96c4" stroke-width="1.6"/>
<circle cx="460.77" cy="328.65" r="2.4" fill="#fff" stroke="#2a96c4" stroke-width="1.6"/>
<line x1="314.80" y1="480.00" x2="326.80" y2="480.00" stroke="#2a96c4" stroke-width="1.1"/>
<circle cx="320.80" cy="480.00" r="2.1" fill="#fff" stroke="#2a96c4" stroke-width="1.3"/>
<text x="334.20" y="482.57" font-size="7.7" text-anchor="start" fill="#111" >Vehicle, qdx1</text>
<line x1="314.80" y1="493.00" x2="326.80" y2="493.00" stroke="#a02d7e" stroke-width="1.1"/>
<polygon points="320.80,490.80 323.00,494.65 318.60,494.65" fill="#fff" stroke="#a02d7e" stroke-width="1.3"/>
<text x="334.20" y="495.57" font-size="7.7" text-anchor="start" fill="#111" >ADCT-602, 1 mg/kg, qdx1</text>
</svg></body></html>
